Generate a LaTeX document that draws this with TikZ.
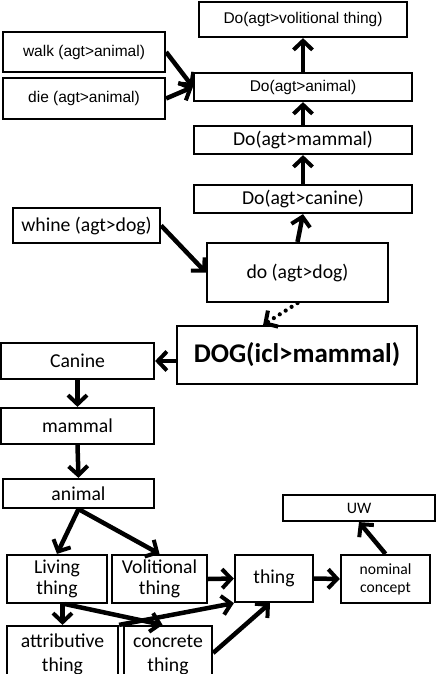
\documentclass[tikz,border=0pt]{standalone}
\usepackage{fontspec}
\setmainfont{Carlito}
\newfontfamily\arialf{Liberation Sans}
\usetikzlibrary{arrows.meta,calc}
\begin{document}
\begin{tikzpicture}[x=1pt,y=-1pt,
  box/.style={draw,line width=2.2pt,rectangle,inner sep=0pt,align=center,font=\fontsize{19.7}{21}\selectfont},
  abox/.style={box,font=\arialf\fontsize{15.5}{17}\selectfont},
  arr/.style={line width=4.5pt,-{Straight Barb[length=9pt,width=19pt,line width=4pt]}},
  dotarr/.style={line width=4.2pt,line cap=round,dash pattern=on 0pt off 7pt,-{Straight Barb[length=9pt,width=19pt,line width=4pt]}}]
\useasboundingbox (0,0) rectangle (436,674);
\begin{scope}
\clip (0,0) rectangle (436,674);
\node[abox,minimum width=208pt,minimum height=35pt] (vt) at (303,19.5) {Do(agt>volitional thing)};
\node[abox,minimum width=162pt,minimum height=40pt] (walk) at (84,52) {walk (agt>animal)};
\node[abox,minimum width=162pt,minimum height=41pt] (die) at (84,98.5) {die (agt>animal)};
\node[abox,minimum width=218pt,minimum height=28pt] (an) at (303,87) {Do(agt>animal)};
\node[box,minimum width=218pt,minimum height=28pt] (mam) at (303,140) {Do(agt>mammal)};
\node[box,minimum width=218pt,minimum height=28pt] (can) at (303,199) {Do(agt>canine)};
\node[box,minimum width=147pt,minimum height=35pt] (whine) at (86.5,225.5) {whine (agt>dog)};
\node[box,minimum width=181pt,minimum height=59pt] (dog) at (297.5,272.5) {do (agt>dog)};
\node[box,minimum width=240pt,minimum height=58pt,font=\bfseries\fontsize{27}{29}\selectfont] (DOG) at (297,355) {DOG(icl>mammal)};
\node[box,minimum width=153pt,minimum height=36pt] (Canine) at (77.5,361) {Canine};
\node[box,minimum width=153pt,minimum height=36pt] (mammal) at (77.5,426) {mammal};
\node[box,minimum width=151pt,minimum height=29pt] (animal) at (78.5,493.5) {animal};
\node[box,minimum width=152pt,minimum height=26pt,font=\fontsize{16}{17}\selectfont] (UW) at (359,508) {UW};
\node[box,minimum width=100pt,minimum height=48pt,font=\fontsize{19.7}{21}\selectfont] (Living) at (57,579) {Living\\thing};
\node[box,minimum width=95pt,minimum height=48pt,font=\fontsize{19.7}{21}\selectfont] (Vol) at (159.5,579) {Volitional\\thing};
\node[box,minimum width=78pt,minimum height=47pt] (thing) at (274,578.5) {thing};
\node[box,minimum width=89pt,minimum height=48pt,font=\fontsize{15.6}{18}\selectfont] (nom) at (385.5,579) {nominal\\concept};
\node[box,minimum width=111pt,minimum height=54pt,font=\fontsize{19.7}{24}\selectfont,text depth=-2pt] (attr) at (62.5,653) {attributive\\thing};
\node[box,minimum width=88pt,minimum height=54pt,font=\fontsize{19.7}{24}\selectfont,text depth=-2pt] (conc) at (168,653) {concrete\\thing};
\end{scope}
\draw[arr] (walk.east) -- (an.west);
\draw[arr] (die.east) -- (an.west);
\draw[arr] (an.north) -- (vt.south);
\draw[arr] (mam.north) -- (an.south);
\draw[arr] (can.north) -- (mam.south);
\draw[arr] (dog.north) -- (can.south);
\draw[arr] (whine.east) -- (dog.west);
\draw[dotarr] (dog.south) -- ($(DOG.north west)!0.36!(DOG.north east)$);
\draw[arr] (DOG.west |- Canine.east) -- (Canine.east);
\draw[arr] (Canine.south) -- (mammal.north);
\draw[arr] (mammal.south) -- (animal.north);
\draw[arr] (animal.south) -- (Living.north);
\draw[arr] (animal.south) -- (Vol.north);
\draw[arr] (Vol.east) -- (thing.west);
\draw[arr] (thing.east) -- (nom.west);
\draw[arr] (nom.north) -- (UW.south);
\draw[arr] (attr.north |- Living.south) -- (attr.north);
\draw[arr] ($(Living.south west)!0.58!(Living.south east)$) -- ($(conc.north west)!0.44!(conc.north east)$);
\draw[arr] (attr.north east) -- (thing.south west);
\draw[arr] (conc.east) -- ($(thing.south west)!0.45!(thing.south east)$);
\end{tikzpicture}
\end{document}
